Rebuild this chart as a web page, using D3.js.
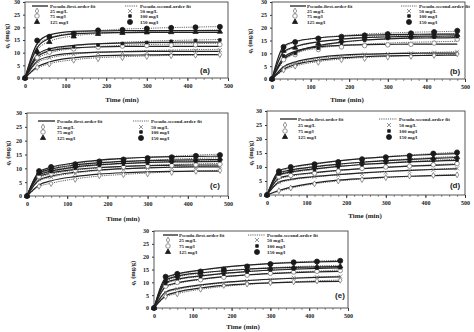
<!DOCTYPE html>
<html>
<head>
<meta charset="utf-8">
<script src="https://cdn.jsdelivr.net/npm/d3@7"></script>
<style>
body { margin: 0; background: #fff; }
svg { display: block; }
</style>
</head>
<body>
<div id="fig"></div>
<script>
// sampling times (min) and initial concentrations
const timeMin = [0, 30, 60, 120, 180, 240, 300, 360, 420, 480];
const concLabels = ["25 mg/L", "50 mg/L", "75 mg/l", "100 mg/l", "125 mg/l", "150 mg/l"];
const xTicks = [0, 100, 200, 300, 400, 500];
const yTicks = [0, 5, 10, 15, 20, 25, 30];
const fitLabels = ["Pseudo-first-order fit", "Pseudo-second-order fit"];
const panelTags = ["(a)", "(b)", "(c)", "(d)", "(e)"];

// qt (mg/g), rows follow concLabels
const obsA = [
  [0, 4.2, 5.5, 7.0, 7.6, 8.0, 8.5, 8.8, 9.0, 9.2],
  [0, 6.5, 8.0, 9.3, 9.8, 10.0, 10.3, 10.5, 10.8, 11.0],
  [0, 8.0, 10.2, 11.5, 12.2, 12.6, 12.8, 13.0, 13.1, 13.2],
  [0, 10.0, 11.3, 12.3, 13.0, 13.6, 14.0, 14.5, 14.8, 15.0],
  [0, 10.5, 14.2, 16.4, 17.4, 17.8, 18.0, 18.1, 18.2, 18.3],
  [0, 14.8, 16.3, 17.5, 18.8, 19.0, 19.5, 19.8, 20.0, 20.2]
];
const pfoA = [
  [0, 4.4, 6.3, 8.0, 8.7, 9.0, 9.1, 9.2, 9.2, 9.2],
  [0, 6.6, 8.5, 9.8, 10.2, 10.4, 10.5, 10.5, 10.5, 10.5],
  [0, 8.3, 10.6, 11.9, 12.3, 12.5, 12.5, 12.5, 12.5, 12.5],
  [0, 9.2, 11.5, 12.9, 13.5, 13.8, 14.0, 14.1, 14.2, 14.2],
  [0, 12.0, 15.6, 17.4, 17.8, 17.9, 18.0, 18.0, 18.0, 18.0],
  [0, 13.6, 17.0, 18.4, 18.6, 18.7, 18.7, 18.7, 18.7, 18.7]
];
const psoA = [
  [0, 3.8, 5.6, 7.2, 8.0, 8.4, 8.7, 8.9, 9.1, 9.2],
  [0, 6.0, 7.8, 9.4, 10.1, 10.5, 10.8, 11.0, 11.2, 11.3],
  [0, 7.6, 9.8, 11.6, 12.4, 12.9, 13.2, 13.4, 13.6, 13.7],
  [0, 8.6, 10.8, 12.6, 13.5, 14.1, 14.5, 14.8, 15.0, 15.2],
  [0, 11.0, 14.4, 16.6, 17.5, 18.0, 18.4, 18.6, 18.8, 19.0],
  [0, 13.0, 15.8, 17.8, 18.7, 19.3, 19.6, 19.9, 20.1, 20.3]
];

const obsB = [
  [0, 3.5, 5.0, 6.5, 7.5, 8.0, 8.5, 8.8, 9.2, 9.8],
  [0, 4.5, 6.0, 7.5, 8.5, 9.5, 9.8, 10.0, 10.3, 10.5],
  [0, 7.5, 9.5, 11.5, 12.5, 13.0, 13.3, 13.5, 14.0, 15.5],
  [0, 9.0, 10.0, 12.0, 14.0, 15.0, 15.8, 16.0, 16.3, 16.5],
  [0, 11.0, 12.2, 13.8, 15.0, 16.0, 16.5, 16.8, 17.0, 17.2],
  [0, 12.5, 14.4, 15.8, 16.5, 17.0, 17.5, 17.8, 18.3, 18.8]
];
const pfoB = [
  [0, 3.8, 5.6, 7.3, 8.2, 8.7, 9.0, 9.1, 9.2, 9.3],
  [0, 4.8, 6.6, 8.4, 9.3, 9.7, 9.9, 10.0, 10.1, 10.1],
  [0, 8.4, 10.8, 12.5, 13.1, 13.4, 13.5, 13.6, 13.6, 13.6],
  [0, 7.6, 10.4, 13.0, 14.4, 15.2, 15.6, 15.9, 16.0, 16.1],
  [0, 10.6, 12.6, 14.5, 15.5, 16.1, 16.4, 16.6, 16.7, 16.8],
  [0, 12.8, 14.6, 16.0, 16.7, 17.1, 17.3, 17.4, 17.5, 17.5]
];
const psoB = [
  [0, 3.3, 5.0, 6.8, 7.8, 8.4, 8.8, 9.2, 9.4, 9.6],
  [0, 4.2, 6.0, 7.9, 8.9, 9.5, 9.9, 10.2, 10.4, 10.6],
  [0, 7.6, 10.0, 12.0, 13.0, 13.6, 14.0, 14.3, 14.5, 14.7],
  [0, 7.0, 9.8, 12.6, 14.2, 15.1, 15.7, 16.1, 16.4, 16.6],
  [0, 10.0, 12.3, 14.4, 15.6, 16.3, 16.8, 17.1, 17.4, 17.6],
  [0, 12.2, 14.3, 16.0, 16.9, 17.5, 17.9, 18.2, 18.4, 18.6]
];

const obsC = [
  [0, 3.5, 4.5, 6.0, 7.3, 7.7, 8.0, 8.5, 8.9, 9.2],
  [0, 6.0, 6.8, 8.0, 9.0, 9.5, 10.0, 10.2, 10.4, 10.7],
  [0, 7.0, 8.0, 9.2, 10.0, 10.5, 10.8, 11.0, 11.3, 11.5],
  [0, 8.0, 8.8, 10.0, 11.0, 11.5, 11.8, 12.2, 12.5, 12.8],
  [0, 8.5, 9.5, 10.8, 11.8, 12.3, 12.6, 12.8, 13.2, 13.5],
  [0, 9.0, 10.5, 11.5, 12.5, 13.2, 13.7, 14.0, 14.5, 14.8]
];
const pfoC = [
  [0, 4.0, 5.5, 7.0, 7.9, 8.4, 8.7, 8.9, 9.0, 9.0],
  [0, 5.8, 7.2, 8.6, 9.4, 9.9, 10.2, 10.4, 10.5, 10.5],
  [0, 7.0, 8.3, 9.6, 10.3, 10.7, 11.0, 11.1, 11.2, 11.2],
  [0, 7.6, 9.0, 10.5, 11.3, 11.8, 12.1, 12.3, 12.4, 12.5],
  [0, 8.2, 9.7, 11.2, 12.0, 12.5, 12.8, 13.0, 13.1, 13.2],
  [0, 8.8, 10.4, 12.0, 13.0, 13.6, 14.0, 14.2, 14.3, 14.4]
];
const psoC = [
  [0, 3.4, 4.6, 6.2, 7.2, 7.8, 8.3, 8.7, 9.0, 9.3],
  [0, 5.4, 6.8, 8.3, 9.2, 9.8, 10.2, 10.5, 10.8, 11.0],
  [0, 6.6, 7.9, 9.3, 10.1, 10.7, 11.1, 11.4, 11.6, 11.8],
  [0, 7.2, 8.7, 10.2, 11.1, 11.7, 12.2, 12.5, 12.8, 13.0],
  [0, 7.8, 9.3, 10.9, 11.8, 12.5, 12.9, 13.3, 13.6, 13.8],
  [0, 8.4, 10.0, 11.7, 12.8, 13.5, 14.0, 14.4, 14.8, 15.1]
];

const obsD = [
  [0, 1.5, 2.5, 4.0, 5.0, 5.5, 6.2, 6.8, 7.0, 7.2],
  [0, 4.5, 6.0, 6.5, 7.0, 7.5, 8.0, 8.5, 9.0, 9.5],
  [0, 6.5, 7.0, 7.8, 8.5, 9.5, 10.0, 10.3, 10.8, 11.2],
  [0, 7.5, 8.3, 9.0, 10.0, 10.8, 11.5, 12.0, 12.3, 12.5],
  [0, 8.0, 9.0, 10.0, 11.0, 11.8, 12.5, 13.0, 13.2, 13.5],
  [0, 8.5, 10.0, 11.0, 11.8, 12.8, 13.5, 14.0, 14.8, 15.2]
];
const pfoD = [
  [0, 1.6, 2.8, 4.3, 5.3, 5.9, 6.4, 6.7, 6.9, 7.1],
  [0, 4.6, 5.6, 6.6, 7.3, 7.9, 8.4, 8.8, 9.1, 9.3],
  [0, 6.0, 7.0, 8.0, 8.8, 9.4, 9.9, 10.3, 10.6, 10.9],
  [0, 7.2, 8.2, 9.3, 10.2, 10.9, 11.4, 11.8, 12.1, 12.4],
  [0, 7.8, 8.9, 10.1, 11.0, 11.7, 12.3, 12.7, 13.1, 13.4],
  [0, 8.6, 9.9, 11.2, 12.2, 13.0, 13.6, 14.1, 14.5, 14.8]
];
const psoD = [
  [0, 1.3, 2.4, 4.0, 5.0, 5.7, 6.2, 6.6, 7.0, 7.3],
  [0, 4.2, 5.3, 6.4, 7.2, 7.8, 8.3, 8.8, 9.2, 9.6],
  [0, 5.6, 6.7, 7.8, 8.7, 9.4, 10.0, 10.4, 10.8, 11.2],
  [0, 6.8, 7.9, 9.1, 10.1, 10.9, 11.5, 12.0, 12.4, 12.8],
  [0, 7.4, 8.6, 9.9, 10.9, 11.7, 12.4, 12.9, 13.4, 13.8],
  [0, 8.2, 9.6, 11.0, 12.1, 13.0, 13.7, 14.3, 14.8, 15.3]
];

const obsE = [
  [0, 4.5, 5.5, 7.3, 8.8, 9.3, 9.8, 10.2, 10.5, 10.8],
  [0, 6.0, 7.5, 8.5, 9.5, 10.5, 11.0, 11.8, 12.0, 12.3],
  [0, 8.5, 10.0, 11.0, 12.0, 12.8, 13.5, 14.0, 14.3, 14.6],
  [0, 9.5, 11.5, 12.2, 13.2, 14.0, 14.8, 15.2, 15.5, 15.7],
  [0, 10.5, 12.5, 13.5, 14.5, 15.0, 15.5, 15.8, 16.0, 16.2],
  [0, 12.2, 13.3, 14.2, 15.0, 16.2, 17.1, 17.8, 18.1, 18.4]
];
const pfoE = [
  [0, 4.8, 6.2, 7.8, 8.8, 9.4, 9.8, 10.1, 10.3, 10.4],
  [0, 6.2, 7.6, 9.0, 10.0, 10.7, 11.2, 11.6, 11.9, 12.1],
  [0, 8.4, 9.8, 11.2, 12.2, 12.9, 13.4, 13.8, 14.1, 14.3],
  [0, 9.8, 11.2, 12.5, 13.5, 14.2, 14.7, 15.1, 15.4, 15.6],
  [0, 10.8, 12.4, 13.7, 14.5, 15.1, 15.5, 15.8, 16.0, 16.1],
  [0, 11.8, 13.3, 14.8, 15.9, 16.7, 17.3, 17.7, 18.0, 18.2]
];
const psoE = [
  [0, 4.3, 5.6, 7.3, 8.4, 9.2, 9.8, 10.2, 10.6, 10.9],
  [0, 5.8, 7.2, 8.7, 9.8, 10.6, 11.2, 11.7, 12.1, 12.4],
  [0, 8.0, 9.5, 11.0, 12.1, 12.9, 13.5, 14.0, 14.4, 14.8],
  [0, 9.3, 10.9, 12.3, 13.4, 14.2, 14.8, 15.3, 15.7, 16.0],
  [0, 10.3, 12.0, 13.5, 14.5, 15.2, 15.7, 16.1, 16.4, 16.6],
  [0, 11.4, 13.0, 14.6, 15.8, 16.7, 17.4, 17.9, 18.3, 18.6]
];

// where each panel sits on the page
const panels = [
  {obs: obsA, pfo: pfoA, pso: psoA, L: 25, R: 228, T: 2, B: 78,
   leg: {l0: 7, l1: 23, lt: 25, r0: 100, r1: 113, rt: 115, rows: [4, 9, 14, 20]},
   tag: [205, 70], yt: [6, 36], xt: [122, 99]},
  {obs: obsB, pfo: pfoB, pso: psoB, L: 272, R: 465, T: 2, B: 79,
   leg: {l0: 18, l1: 34, lt: 35, r0: 129, r1: 145, rt: 147, rows: [4, 9, 14, 20]},
   tag: [455, 71], yt: [249, 41], xt: [347, 99]},
  {obs: obsC, pfo: pfoC, pso: psoC, L: 27, R: 228, T: 113, B: 196,
   leg: {l0: 11, l1: 28, lt: 30, r0: 106, r1: 122, rt: 124, rows: [8, 14, 19, 25]},
   tag: [215, 185], yt: [7, 153], xt: [123, 218]},
  {obs: obsD, pfo: pfoD, pso: psoD, L: 267, R: 465, T: 111, B: 195,
   leg: {l0: 13, l1: 30, lt: 31, r0: 112, r1: 130, rt: 132, rows: [8, 14, 20, 26]},
   tag: [455, 185], yt: [250, 153], xt: [365, 215]},
  {obs: obsE, pfo: pfoE, pso: psoE, L: 154, R: 348, T: 231, B: 308,
   leg: {l0: 9, l1: 24, lt: 25, r0: 94, r1: 111, rt: 113, rows: [4, 9, 15, 21]},
   tag: [340, 295], yt: [132, 273], xt: [243, 326]}
];

const serif = "'Liberation Serif', 'Times New Roman', serif";
const inkDark = "#1a1a1a", inkGrey = "#777";

// one marker per concentration
const markers = [
  {type: d3.symbolDiamond, size: 10, fill: "#fff", stroke: inkGrey},
  {type: d3.symbolTimes || d3.symbolCross, size: 12, fill: "none", stroke: inkGrey},
  {type: d3.symbolCircle, size: 16, fill: "#fff", stroke: inkGrey},
  {type: d3.symbolSquare, size: 7, fill: inkDark, stroke: inkDark},
  {type: d3.symbolTriangle, size: 12, fill: inkDark, stroke: inkDark},
  {type: d3.symbolCircle, size: 20, fill: inkDark, stroke: inkDark}
];

const svg = d3.select("#fig").append("svg")
  .attr("width", 474)
  .attr("height", 332);

function marker(sel, i, x, y) {
  const m = markers[i];
  sel.append("path")
    .attr("d", d3.symbol(m.type, m.size)())
    .attr("transform", `translate(${x},${y})`)
    .attr("fill", m.fill)
    .attr("stroke", m.stroke)
    .attr("stroke-width", 0.8);
}

function dibuixaPanell(p, k) {
  const g = svg.append("g");
  const x = d3.scaleLinear().domain([0, 500]).range([p.L, p.R]);
  const y = d3.scaleLinear().domain([0, 30]).range([p.B, p.T]);

  // minor ticks every 20 min, major every 100
  const minor = d3.range(0, 501, 20);
  g.append("g")
    .attr("transform", `translate(0,${p.B})`)
    .call(d3.axisBottom(x).tickValues(minor).tickSize(2).tickFormat(""))
    .call(a => a.select(".domain").remove())
    .selectAll("line").attr("stroke", "#444").attr("stroke-width", 0.6);

  g.append("g")
    .attr("transform", `translate(0,${p.B})`)
    .call(d3.axisBottom(x).tickValues(xTicks).tickSize(3).tickPadding(3))
    .call(a => a.select(".domain").remove())
    .call(a => a.selectAll("line").attr("stroke", "#333"))
    .selectAll("text")
      .attr("font-family", serif).attr("font-weight", "bold")
      .attr("font-size", 6).attr("fill", "#222");

  g.append("g")
    .attr("transform", `translate(${p.L},0)`)
    .call(d3.axisLeft(y).tickValues(yTicks).tickSize(2).tickPadding(3))
    .call(a => a.select(".domain").remove())
    .call(a => a.selectAll("line").attr("stroke", "#333"))
    .selectAll("text")
      .attr("font-family", serif).attr("font-weight", "bold")
      .attr("font-size", 6).attr("fill", "#222");

  // plot frame
  g.append("rect")
    .attr("x", p.L).attr("y", p.T)
    .attr("width", p.R - p.L).attr("height", p.B - p.T)
    .attr("fill", "none").attr("stroke", "#444").attr("stroke-width", 0.9);

  const línia = d3.line()
    .x((_, i) => x(timeMin[i]))
    .y(d => y(d))
    .curve(d3.curveMonotoneX);

  g.append("g").selectAll("path")
    .data(p.pso)
    .enter().append("path")
      .attr("d", línia)
      .attr("fill", "none")
      .attr("stroke", "#555")
      .attr("stroke-width", 0.9)
      .attr("stroke-dasharray", "1.2,1");

  g.append("g").selectAll("path")
    .data(p.pfo)
    .enter().append("path")
      .attr("d", línia)
      .attr("fill", "none")
      .attr("stroke", "#222")
      .attr("stroke-width", 1.2);

  const pts = g.append("g");
  p.obs.forEach((serie, i) => {
    serie.forEach((v, j) => marker(pts, i, x(timeMin[j]), y(v)));
  });

  // legend
  const lg = p.leg;
  const leg = g.append("g")
    .attr("font-family", serif).attr("font-weight", "bold")
    .attr("font-size", 5).attr("fill", "#222");
  const ry = lg.rows.map(r => p.T + r);
  leg.append("line")
    .attr("x1", p.L + lg.l0).attr("x2", p.L + lg.l1)
    .attr("y1", ry[0]).attr("y2", ry[0])
    .attr("stroke", "#222").attr("stroke-width", 1.3);
  leg.append("line")
    .attr("x1", p.L + lg.r0).attr("x2", p.L + lg.r1)
    .attr("y1", ry[0]).attr("y2", ry[0])
    .attr("stroke", "#555").attr("stroke-width", 0.9)
    .attr("stroke-dasharray", "1.2,1");
  leg.append("text").attr("x", p.L + lg.lt).attr("y", ry[0] + 1.7).text(fitLabels[0]);
  leg.append("text").attr("x", p.L + lg.rt).attr("y", ry[0] + 1.7).text(fitLabels[1]);
  [0, 2, 4].forEach((ci, r) => {
    marker(leg, ci, p.L + lg.l0 + 5, ry[r + 1]);
    leg.append("text").attr("x", p.L + lg.lt).attr("y", ry[r + 1] + 1.7).text(concLabels[ci]);
  });
  [1, 3, 5].forEach((ci, r) => {
    marker(leg, ci, p.L + lg.rt - 10, ry[r + 1]);
    leg.append("text").attr("x", p.L + lg.rt).attr("y", ry[r + 1] + 1.7).text(concLabels[ci]);
  });

  // titles
  g.append("text")
    .attr("x", p.xt[0]).attr("y", p.xt[1] + 2.5)
    .attr("text-anchor", "middle")
    .attr("font-family", serif).attr("font-weight", "bold")
    .attr("font-size", 7).attr("fill", "#222")
    .text("Time (min)");

  const yt = g.append("text")
    .attr("transform", `translate(${p.yt[0] + 2.5},${p.yt[1]}) rotate(-90)`)
    .attr("text-anchor", "middle")
    .attr("font-family", serif).attr("font-weight", "bold")
    .attr("font-size", 6.5).attr("fill", "#222");
  yt.append("tspan").attr("font-style", "italic").text("q");
  yt.append("tspan").attr("font-size", 4.5).attr("dy", 1.5).text("t");
  yt.append("tspan").attr("dy", -1.5).text(" (mg/g)");

  g.append("text")
    .attr("x", p.tag[0]).attr("y", p.tag[1] + 3)
    .attr("text-anchor", "middle")
    .attr("font-family", "'Liberation Sans', Arial, sans-serif")
    .attr("font-weight", "bold").attr("font-size", 8).attr("fill", "#222")
    .text(panelTags[k]);
}

panels.forEach(dibuixaPanell);
</script>
</body>
</html>
